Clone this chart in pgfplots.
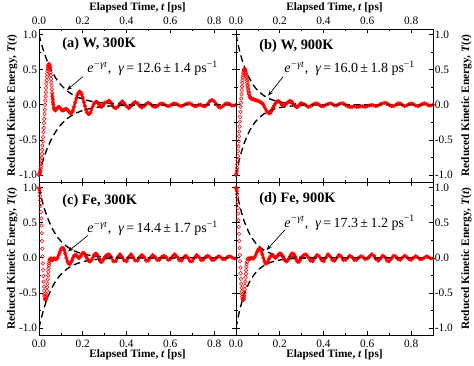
\documentclass[border=0pt]{standalone}
\usepackage{fontspec}
\setmainfont{Liberation Serif}
\usepackage{pgfplots}
\pgfplotsset{compat=1.18}
\usepackage{pgfplotstable}
\usetikzlibrary{arrows.meta}

\pgfplotstableread[row sep=\\]{
t y\\
0.0000 -1.00\\ 0.00125 -1.00\\ 0.0025 -0.99\\ 0.00375 -0.98\\ 0.0050 -0.96\\ 0.00625 -0.94\\ 0.0075 -0.91\\ 0.00875 -0.88\\
0.0100 -0.84\\ 0.01125 -0.80\\ 0.0125 -0.75\\ 0.01375 -0.70\\ 0.0150 -0.64\\ 0.01625 -0.58\\ 0.0175 -0.52\\ 0.01875 -0.46\\
0.0200 -0.39\\ 0.02125 -0.33\\ 0.0225 -0.26\\ 0.02375 -0.20\\ 0.0250 -0.13\\ 0.02625 -0.07\\ 0.0275 0.00\\ 0.02875 0.06\\
0.0300 0.12\\ 0.03125 0.18\\ 0.0325 0.24\\ 0.03375 0.30\\ 0.0350 0.35\\ 0.03625 0.40\\ 0.0375 0.44\\ 0.03875 0.48\\
0.0400 0.51\\ 0.04125 0.54\\ 0.0425 0.56\\ 0.04375 0.57\\ 0.0450 0.58\\ 0.04625 0.58\\ 0.0475 0.57\\ 0.04875 0.55\\
0.0500 0.53\\ 0.05125 0.50\\ 0.0525 0.46\\ 0.05375 0.42\\ 0.0550 0.37\\ 0.05625 0.32\\ 0.0575 0.27\\ 0.05875 0.22\\
0.0600 0.17\\ 0.06125 0.12\\ 0.0625 0.08\\ 0.06375 0.04\\ 0.0650 0.01\\ 0.0675 -0.04\\ 0.0700 -0.07\\ 0.075 -0.08\\
0.080 -0.06\\ 0.085 -0.04\\
0.090 -0.03\\ 0.095 -0.04\\ 0.100 -0.06\\ 0.105 -0.08\\ 0.110 -0.08\\ 0.115 -0.07\\ 0.120 -0.06\\ 0.125 -0.06\\
0.130 -0.07\\ 0.135 -0.09\\ 0.140 -0.11\\ 0.145 -0.12\\ 0.150 -0.11\\ 0.155 -0.08\\ 0.160 -0.03\\ 0.165 0.03\\
0.170 0.09\\ 0.175 0.14\\ 0.180 0.17\\ 0.185 0.19\\ 0.190 0.18\\ 0.195 0.15\\ 0.200 0.10\\ 0.205 0.04\\
0.210 -0.02\\ 0.215 -0.07\\ 0.220 -0.11\\ 0.225 -0.13\\ 0.230 -0.13\\ 0.235 -0.11\\ 0.240 -0.07\\ 0.245 -0.03\\
0.250 0.01\\ 0.255 0.03\\ 0.260 0.04\\ 0.265 0.04\\ 0.270 0.02\\ 0.275 0.00\\ 0.280 -0.02\\ 0.285 -0.03\\
0.290 -0.02\\ 0.295 0.00\\ 0.300 0.03\\ 0.31 0.04\\ 0.32 0.06\\ 0.33 0.03\\ 0.34 -0.03\\ 0.35 -0.05\\
0.36 -0.03\\ 0.37 0.02\\ 0.38 0.05\\ 0.39 0.02\\ 0.40 -0.02\\ 0.41 -0.05\\ 0.42 -0.02\\ 0.43 0.02\\
0.44 0.04\\ 0.45 0.02\\ 0.46 -0.02\\ 0.47 -0.04\\ 0.48 -0.02\\ 0.49 0.01\\ 0.50 0.03\\ 0.51 0.01\\
0.52 -0.02\\ 0.53 -0.03\\ 0.54 -0.02\\ 0.55 0.01\\ 0.56 0.02\\ 0.57 0.01\\ 0.58 -0.01\\ 0.59 -0.02\\
0.60 -0.01\\ 0.61 0.01\\ 0.62 0.02\\ 0.63 0.01\\ 0.64 -0.01\\ 0.65 -0.02\\ 0.66 -0.01\\ 0.67 0.01\\
0.68 0.02\\ 0.69 0.02\\ 0.70 0.00\\ 0.71 -0.02\\ 0.72 -0.02\\ 0.73 0.00\\ 0.74 0.00\\ 0.75 -0.02\\
0.76 -0.02\\ 0.77 0.01\\ 0.78 0.05\\ 0.79 0.07\\ 0.80 0.05\\ 0.81 0.01\\ 0.82 -0.03\\ 0.83 -0.04\\
0.84 -0.02\\ 0.85 0.01\\ 0.86 0.02\\ 0.87 0.01\\ 0.88 -0.01\\ 0.89 -0.01\\ 0.90 0.00\\
}\dataA

\pgfplotstableread[row sep=\\]{
t y\\
0.0000 -1.00\\ 0.00125 -0.99\\ 0.0025 -0.97\\ 0.00375 -0.94\\ 0.0050 -0.90\\ 0.00625 -0.85\\ 0.0075 -0.79\\ 0.00875 -0.73\\
0.0100 -0.66\\ 0.01125 -0.59\\ 0.0125 -0.52\\ 0.01375 -0.45\\ 0.0150 -0.38\\ 0.01625 -0.31\\ 0.0175 -0.24\\ 0.01875 -0.17\\
0.0200 -0.10\\ 0.02125 -0.03\\ 0.0225 0.03\\ 0.02375 0.09\\ 0.0250 0.15\\ 0.02625 0.21\\ 0.0275 0.26\\ 0.02875 0.31\\
0.0300 0.35\\ 0.03125 0.39\\ 0.0325 0.42\\ 0.03375 0.45\\ 0.0350 0.47\\ 0.03625 0.49\\ 0.0375 0.50\\ 0.03875 0.51\\
0.0400 0.51\\ 0.04125 0.50\\ 0.0425 0.49\\ 0.04375 0.47\\ 0.0450 0.45\\ 0.04625 0.43\\ 0.0475 0.40\\ 0.04875 0.38\\
0.0500 0.35\\ 0.05125 0.32\\ 0.0525 0.29\\ 0.05375 0.27\\ 0.0550 0.24\\ 0.05625 0.21\\ 0.0575 0.19\\ 0.05875 0.17\\
0.0600 0.15\\ 0.0625 0.12\\ 0.0650 0.10\\ 0.0675 0.09\\ 0.0700 0.09\\ 0.075 0.08\\ 0.080 0.08\\ 0.085 0.07\\
0.090 0.07\\ 0.095 0.06\\ 0.100 0.06\\ 0.105 0.05\\ 0.110 0.04\\ 0.115 0.03\\ 0.120 0.02\\ 0.125 0.00\\
0.130 -0.03\\ 0.135 -0.06\\ 0.140 -0.09\\ 0.145 -0.11\\ 0.150 -0.12\\ 0.155 -0.12\\ 0.160 -0.10\\ 0.165 -0.07\\
0.170 -0.04\\ 0.175 -0.01\\ 0.180 0.02\\ 0.185 0.04\\ 0.190 0.05\\ 0.195 0.05\\ 0.200 0.04\\ 0.205 0.02\\
0.210 0.00\\ 0.215 -0.01\\ 0.220 -0.01\\ 0.225 0.00\\ 0.230 0.02\\ 0.235 0.03\\ 0.240 0.04\\ 0.245 0.05\\
0.250 0.05\\ 0.255 0.04\\ 0.260 0.02\\ 0.265 0.00\\ 0.270 -0.02\\ 0.275 -0.03\\ 0.280 -0.03\\ 0.285 -0.02\\
0.290 0.00\\ 0.295 0.02\\ 0.300 0.02\\ 0.31 0.01\\ 0.32 -0.01\\ 0.33 -0.03\\ 0.34 -0.02\\ 0.35 0.00\\
0.36 0.02\\ 0.37 0.02\\ 0.38 0.00\\ 0.39 -0.02\\ 0.40 -0.02\\ 0.41 0.00\\ 0.42 0.01\\ 0.43 0.02\\
0.44 0.01\\ 0.45 -0.01\\ 0.46 -0.01\\ 0.47 0.01\\ 0.48 0.02\\ 0.49 0.02\\ 0.50 0.00\\ 0.51 -0.02\\
0.52 -0.03\\ 0.53 -0.03\\ 0.54 -0.02\\ 0.55 -0.03\\ 0.56 -0.03\\ 0.57 -0.02\\ 0.58 -0.02\\ 0.59 -0.03\\
0.60 -0.02\\ 0.61 -0.01\\ 0.62 0.00\\ 0.63 -0.01\\ 0.64 -0.02\\ 0.65 -0.01\\ 0.66 0.01\\ 0.67 0.02\\
0.68 0.03\\ 0.69 0.02\\ 0.70 0.00\\ 0.71 -0.02\\ 0.72 -0.02\\ 0.73 0.00\\ 0.74 0.02\\ 0.75 0.02\\
0.76 0.00\\ 0.77 -0.02\\ 0.78 -0.01\\ 0.79 0.01\\ 0.80 0.02\\ 0.81 0.01\\ 0.82 -0.01\\ 0.83 -0.02\\
0.84 -0.01\\ 0.85 0.01\\ 0.86 0.02\\ 0.87 0.01\\ 0.88 -0.01\\ 0.89 -0.01\\ 0.90 0.00\\
}\dataB

\pgfplotstableread[row sep=\\]{
t y\\
0.0000 1.00\\ 0.00125 0.99\\ 0.0025 0.97\\ 0.00375 0.93\\ 0.0050 0.88\\ 0.00625 0.82\\ 0.0075 0.74\\ 0.00875 0.65\\
0.0100 0.56\\ 0.01125 0.46\\ 0.0125 0.35\\ 0.01375 0.24\\ 0.0150 0.13\\ 0.01625 0.02\\ 0.0175 -0.08\\ 0.01875 -0.17\\
0.0200 -0.26\\ 0.02125 -0.34\\ 0.0225 -0.41\\ 0.02375 -0.47\\ 0.0250 -0.52\\ 0.02625 -0.55\\ 0.0275 -0.58\\ 0.02875 -0.59\\
0.0300 -0.60\\ 0.03125 -0.59\\ 0.0325 -0.58\\ 0.03375 -0.55\\ 0.0350 -0.52\\ 0.03625 -0.47\\ 0.0375 -0.42\\ 0.03875 -0.37\\
0.0400 -0.31\\ 0.04125 -0.25\\ 0.0425 -0.20\\ 0.04375 -0.15\\ 0.0450 -0.11\\ 0.04625 -0.08\\ 0.0475 -0.05\\ 0.04875 -0.03\\
0.0500 -0.02\\ 0.0525 -0.01\\ 0.0550 -0.01\\ 0.0575 -0.02\\
0.0600 -0.03\\ 0.0625 -0.03\\ 0.0650 -0.02\\ 0.0675 -0.01\\ 0.0700 -0.01\\ 0.075 -0.02\\ 0.080 -0.02\\ 0.085 0.00\\
0.090 0.04\\ 0.095 0.08\\ 0.100 0.12\\ 0.105 0.14\\ 0.110 0.14\\ 0.115 0.11\\ 0.120 0.06\\ 0.125 0.00\\
0.130 -0.05\\ 0.135 -0.08\\ 0.140 -0.09\\ 0.145 -0.07\\ 0.150 -0.04\\ 0.155 0.00\\ 0.160 0.03\\ 0.165 0.04\\
0.170 0.04\\ 0.175 0.02\\ 0.180 0.00\\ 0.185 0.00\\ 0.190 0.02\\ 0.195 0.05\\ 0.200 0.07\\ 0.205 0.07\\
0.210 0.05\\ 0.215 0.02\\ 0.220 -0.01\\ 0.225 -0.04\\ 0.230 -0.05\\ 0.235 -0.05\\ 0.240 -0.03\\ 0.245 0.00\\
0.250 0.03\\ 0.255 0.05\\ 0.260 0.06\\ 0.265 0.05\\ 0.270 0.02\\ 0.275 -0.02\\ 0.280 -0.05\\ 0.285 -0.06\\
0.290 -0.05\\ 0.295 -0.02\\ 0.300 0.01\\ 0.31 0.04\\ 0.32 0.05\\ 0.33 0.01\\ 0.34 -0.05\\ 0.35 -0.05\\
0.36 0.01\\ 0.37 0.05\\ 0.38 0.01\\ 0.39 -0.04\\ 0.40 -0.05\\ 0.41 0.01\\ 0.42 0.05\\ 0.43 0.01\\
0.44 -0.04\\ 0.45 -0.04\\ 0.46 0.01\\ 0.47 0.04\\ 0.48 0.01\\ 0.49 -0.04\\ 0.50 -0.04\\ 0.51 0.01\\
0.52 0.04\\ 0.53 0.01\\ 0.54 -0.03\\ 0.55 -0.03\\ 0.56 0.01\\ 0.57 0.03\\ 0.58 0.01\\ 0.59 -0.03\\
0.60 -0.02\\ 0.61 0.02\\ 0.62 0.05\\ 0.63 0.02\\ 0.64 -0.03\\ 0.65 -0.04\\ 0.66 0.00\\ 0.67 0.03\\
0.68 0.00\\ 0.69 -0.05\\ 0.70 -0.05\\ 0.71 0.00\\ 0.72 0.04\\ 0.73 0.01\\ 0.74 -0.03\\ 0.75 -0.03\\
0.76 0.01\\ 0.77 0.03\\ 0.78 0.01\\ 0.79 -0.03\\ 0.80 -0.03\\ 0.81 0.00\\ 0.82 0.02\\ 0.83 0.01\\
0.84 -0.02\\ 0.85 -0.02\\ 0.86 0.01\\ 0.87 0.02\\ 0.88 0.01\\ 0.89 -0.01\\ 0.90 -0.01\\
}\dataC

\pgfplotstableread[row sep=\\]{
t y\\
0.0000 1.00\\ 0.00125 0.99\\ 0.0025 0.98\\ 0.00375 0.95\\ 0.0050 0.91\\ 0.00625 0.86\\ 0.0075 0.79\\ 0.00875 0.71\\
0.0100 0.63\\ 0.01125 0.54\\ 0.0125 0.44\\ 0.01375 0.34\\ 0.0150 0.24\\ 0.01625 0.14\\ 0.0175 0.04\\ 0.01875 -0.05\\
0.0200 -0.14\\ 0.02125 -0.22\\ 0.0225 -0.30\\ 0.02375 -0.37\\ 0.0250 -0.43\\ 0.02625 -0.48\\ 0.0275 -0.52\\ 0.02875 -0.55\\
0.0300 -0.58\\ 0.03125 -0.59\\ 0.0325 -0.60\\ 0.03375 -0.60\\ 0.0350 -0.59\\ 0.03625 -0.57\\ 0.0375 -0.54\\ 0.03875 -0.50\\
0.0400 -0.45\\ 0.04125 -0.40\\ 0.0425 -0.34\\ 0.04375 -0.28\\ 0.0450 -0.23\\ 0.04625 -0.18\\ 0.0475 -0.13\\ 0.04875 -0.09\\
0.0500 -0.06\\ 0.0525 -0.02\\ 0.0550 -0.01\\ 0.0575 -0.01\\
0.0600 -0.02\\ 0.0625 -0.02\\ 0.0650 -0.01\\ 0.0675 0.00\\ 0.0700 0.00\\ 0.075 -0.01\\ 0.080 -0.01\\ 0.085 0.01\\
0.090 0.04\\ 0.095 0.08\\ 0.100 0.11\\ 0.105 0.13\\ 0.110 0.13\\ 0.115 0.10\\ 0.120 0.05\\ 0.125 0.00\\
0.130 -0.05\\ 0.135 -0.08\\ 0.140 -0.08\\ 0.145 -0.06\\ 0.150 -0.02\\ 0.155 0.01\\ 0.160 0.03\\ 0.165 0.04\\
0.170 0.03\\ 0.175 0.01\\ 0.180 0.00\\ 0.185 0.01\\ 0.190 0.03\\ 0.195 0.05\\ 0.200 0.06\\ 0.205 0.06\\
0.210 0.04\\ 0.215 0.01\\ 0.220 -0.02\\ 0.225 -0.04\\ 0.230 -0.05\\ 0.235 -0.04\\ 0.240 -0.02\\ 0.245 0.01\\
0.250 0.04\\ 0.255 0.06\\ 0.260 0.06\\ 0.265 0.05\\ 0.270 0.02\\ 0.275 -0.02\\ 0.280 -0.05\\ 0.285 -0.06\\
0.290 -0.05\\ 0.295 -0.02\\ 0.300 0.01\\ 0.31 0.04\\ 0.32 0.05\\ 0.33 0.01\\ 0.34 -0.04\\ 0.35 -0.05\\
0.36 0.00\\ 0.37 0.04\\ 0.38 0.02\\ 0.39 -0.03\\ 0.40 -0.05\\ 0.41 0.00\\ 0.42 0.05\\ 0.43 0.02\\
0.44 -0.03\\ 0.45 -0.04\\ 0.46 0.00\\ 0.47 0.04\\ 0.48 0.02\\ 0.49 -0.03\\ 0.50 -0.03\\ 0.51 0.00\\
0.52 0.03\\ 0.53 0.01\\ 0.54 -0.03\\ 0.55 -0.03\\ 0.56 0.00\\ 0.57 0.02\\ 0.58 0.01\\ 0.59 -0.02\\
0.60 -0.01\\ 0.61 0.02\\ 0.62 0.05\\ 0.63 0.03\\ 0.64 -0.02\\ 0.65 -0.04\\ 0.66 -0.01\\ 0.67 0.03\\
0.68 0.01\\ 0.69 -0.04\\ 0.70 -0.05\\ 0.71 -0.01\\ 0.72 0.03\\ 0.73 0.02\\ 0.74 -0.02\\ 0.75 -0.03\\
0.76 0.00\\ 0.77 0.03\\ 0.78 0.01\\ 0.79 -0.02\\ 0.80 -0.03\\ 0.81 0.00\\ 0.82 0.02\\ 0.83 0.01\\
0.84 -0.02\\ 0.85 -0.02\\ 0.86 0.00\\ 0.87 0.02\\ 0.88 0.01\\ 0.89 -0.01\\ 0.90 -0.01\\
}\dataD

\pgfplotsset{
  panel/.style={
    scale only axis, width=147.75pt, height=114.75pt,
    xmin=0, xmax=0.9, ymin=-1.1, ymax=1.08,
    xtick={0,0.2,0.4,0.6,0.8}, minor x tick num=1,
    ytick={-1,-0.5,0,0.5,1}, minor y tick num=1,
    tick align=inside, major tick length=3pt, minor tick length=1.8pt,
    every tick/.style={black, line width=0.5pt},
    axis line style={line width=0.6pt},
    /pgf/number format/fixed,
    /pgf/number format/fixed zerofill,
    /pgf/number format/precision=1,
    /pgf/number format/assume math mode=true,
    tick label style={font=\fontsize{8.5}{10}\selectfont},
    yticklabel style={inner sep=1.2pt},
    label style={font=\bfseries\fontsize{8.5}{10}\selectfont},
    xlabel={Elapsed Time, \textit{t} [ps]},
    ylabel={Reduced Kinetic Energy, \textit{T}(\textit{t})},
  },
  toppanel/.style={xticklabel pos=upper,
    xticklabel style={anchor=base, inner sep=0pt, yshift=3.7pt},
    xlabel style={at={(rel axis cs:0.5,1.118)}, anchor=base, inner sep=0pt}},
  botpanel/.style={
    xticklabel style={anchor=base, inner sep=0pt, yshift=-9pt},
    xlabel style={at={(rel axis cs:0.5,-0.150)}, anchor=base, inner sep=0pt}},
  leftpanel/.style={ylabel style={at={(rel axis cs:-0.122,0.5)}, anchor=base, inner sep=0pt}},
  rightpanel/.style={yticklabel pos=right,
    ylabel style={at={(rel axis cs:1.183,0.5)}, anchor=base, inner sep=0pt}},
  dat/.style={only marks, mark=o, mark size=1.35pt, red, mark options={line width=0.4pt}},
  band/.style={red, line width=1.7pt, smooth, restrict x to domain=0.06:0.9},
  env/.style={black, line width=1pt, dash pattern=on 5pt off 3pt, smooth},
}
\tikzset{
  plab/.style={anchor=west, font=\bfseries\fontsize{10.8}{12}\selectfont},
  ann/.style={anchor=west, font=\fontsize{10.5}{12}\selectfont},
  arr/.style={-{Stealth[length=4pt,width=3pt]}, line width=0.5pt},
}

\begin{document}
\begin{tikzpicture}
\path[use as bounding box] (0,0) rectangle (355.5pt,273.75pt);

% (a)
\begin{axis}[panel, toppanel, leftpanel, at={(29.25pt,137.25pt)}, anchor=south west]
\addplot[band] table[x=t,y=y]{\dataA};
\addplot[dat] table[x=t,y=y]{\dataA};
\addplot[env] coordinates {(0,1)(0.01,0.882)(0.02,0.777)(0.03,0.685)(0.04,0.604)(0.06,0.470)(0.08,0.365)(0.1,0.284)(0.13,0.194)(0.16,0.133)(0.2,0.0805)(0.25,0.0429)(0.3,0.0228)(0.4,0.0065)(0.5,0.0018)(0.7,0.0001)(0.9,0)};
\addplot[env] coordinates {(0,-1)(0.01,-0.882)(0.02,-0.777)(0.03,-0.685)(0.04,-0.604)(0.06,-0.470)(0.08,-0.365)(0.1,-0.284)(0.13,-0.194)(0.16,-0.133)(0.2,-0.0805)(0.25,-0.0429)(0.3,-0.0228)(0.4,-0.0065)(0.5,-0.0018)(0.7,-0.0001)(0.9,0)};
\node[plab] at (axis cs:0.085,0.87) {(a) W, 300K};
\node[ann] at (axis cs:0.2,0.52) {\textit{e}\textsuperscript{\textit{−γt}},\ \ \textit{γ}\,=\,12.6\,±\,1.4 ps\textsuperscript{−1}};
\draw[arr] (axis cs:0.2,0.40) -- (axis cs:0.128,0.21);
\end{axis}

% (b)
\begin{axis}[panel, toppanel, rightpanel, at={(177pt,137.25pt)}, anchor=south west]
\addplot[band] table[x=t,y=y]{\dataB};
\addplot[dat] table[x=t,y=y]{\dataB};
\addplot[env] coordinates {(0,1)(0.01,0.852)(0.02,0.726)(0.03,0.619)(0.04,0.527)(0.06,0.383)(0.08,0.278)(0.1,0.202)(0.13,0.125)(0.16,0.0773)(0.2,0.0408)(0.25,0.0183)(0.3,0.0082)(0.4,0.0017)(0.5,0.0003)(0.9,0)};
\addplot[env] coordinates {(0,-1)(0.01,-0.852)(0.02,-0.726)(0.03,-0.619)(0.04,-0.527)(0.06,-0.383)(0.08,-0.278)(0.1,-0.202)(0.13,-0.125)(0.16,-0.0773)(0.2,-0.0408)(0.25,-0.0183)(0.3,-0.0082)(0.4,-0.0017)(0.5,-0.0003)(0.9,0)};
\node[plab] at (axis cs:0.085,0.84) {(b) W, 900K};
\node[ann] at (axis cs:0.2,0.52) {\textit{e}\textsuperscript{\textit{−γt}},\ \ \textit{γ}\,=\,16.0\,±\,1.8 ps\textsuperscript{−1}};
\draw[arr] (axis cs:0.215,0.40) -- (axis cs:0.147,0.13);
\end{axis}

% (c)
\begin{axis}[panel, botpanel, leftpanel, at={(29.25pt,22.5pt)}, anchor=south west]
\addplot[band] table[x=t,y=y]{\dataC};
\addplot[dat] table[x=t,y=y]{\dataC};
\addplot[env] coordinates {(0,1)(0.01,0.866)(0.02,0.750)(0.03,0.649)(0.04,0.562)(0.06,0.421)(0.08,0.316)(0.1,0.237)(0.13,0.154)(0.16,0.0999)(0.2,0.0561)(0.25,0.0273)(0.3,0.0133)(0.4,0.0032)(0.5,0.0008)(0.9,0)};
\addplot[env] coordinates {(0,-1)(0.01,-0.866)(0.02,-0.750)(0.03,-0.649)(0.04,-0.562)(0.06,-0.421)(0.08,-0.316)(0.1,-0.237)(0.13,-0.154)(0.16,-0.0999)(0.2,-0.0561)(0.25,-0.0273)(0.3,-0.0133)(0.4,-0.0032)(0.5,-0.0008)(0.9,0)};
\node[plab] at (axis cs:0.085,0.81) {(c) Fe, 300K};
\node[ann] at (axis cs:0.2,0.42) {\textit{e}\textsuperscript{\textit{−γt}},\ \ \textit{γ}\,=\,14.4\,±\,1.7 ps\textsuperscript{−1}};
\draw[arr] (axis cs:0.224,0.32) -- (axis cs:0.133,0.09);
\end{axis}

% (d)
\begin{axis}[panel, botpanel, rightpanel, at={(177pt,22.5pt)}, anchor=south west]
\addplot[band] table[x=t,y=y]{\dataD};
\addplot[dat] table[x=t,y=y]{\dataD};
\addplot[env] coordinates {(0,1)(0.01,0.841)(0.02,0.708)(0.03,0.595)(0.04,0.501)(0.06,0.354)(0.08,0.251)(0.1,0.177)(0.13,0.105)(0.16,0.0628)(0.2,0.0314)(0.25,0.0132)(0.3,0.0056)(0.4,0.001)(0.5,0.0002)(0.9,0)};
\addplot[env] coordinates {(0,-1)(0.01,-0.841)(0.02,-0.708)(0.03,-0.595)(0.04,-0.501)(0.06,-0.354)(0.08,-0.251)(0.1,-0.177)(0.13,-0.105)(0.16,-0.0628)(0.2,-0.0314)(0.25,-0.0132)(0.3,-0.0056)(0.4,-0.001)(0.5,-0.0002)(0.9,0)};
\node[plab] at (axis cs:0.085,0.84) {(d) Fe, 900K};
\node[ann] at (axis cs:0.2,0.50) {\textit{e}\textsuperscript{\textit{−γt}},\ \ \textit{γ}\,=\,17.3\,±\,1.2 ps\textsuperscript{−1}};
\draw[arr] (axis cs:0.224,0.40) -- (axis cs:0.14,0.11);
\end{axis}
\end{tikzpicture}
\end{document}
